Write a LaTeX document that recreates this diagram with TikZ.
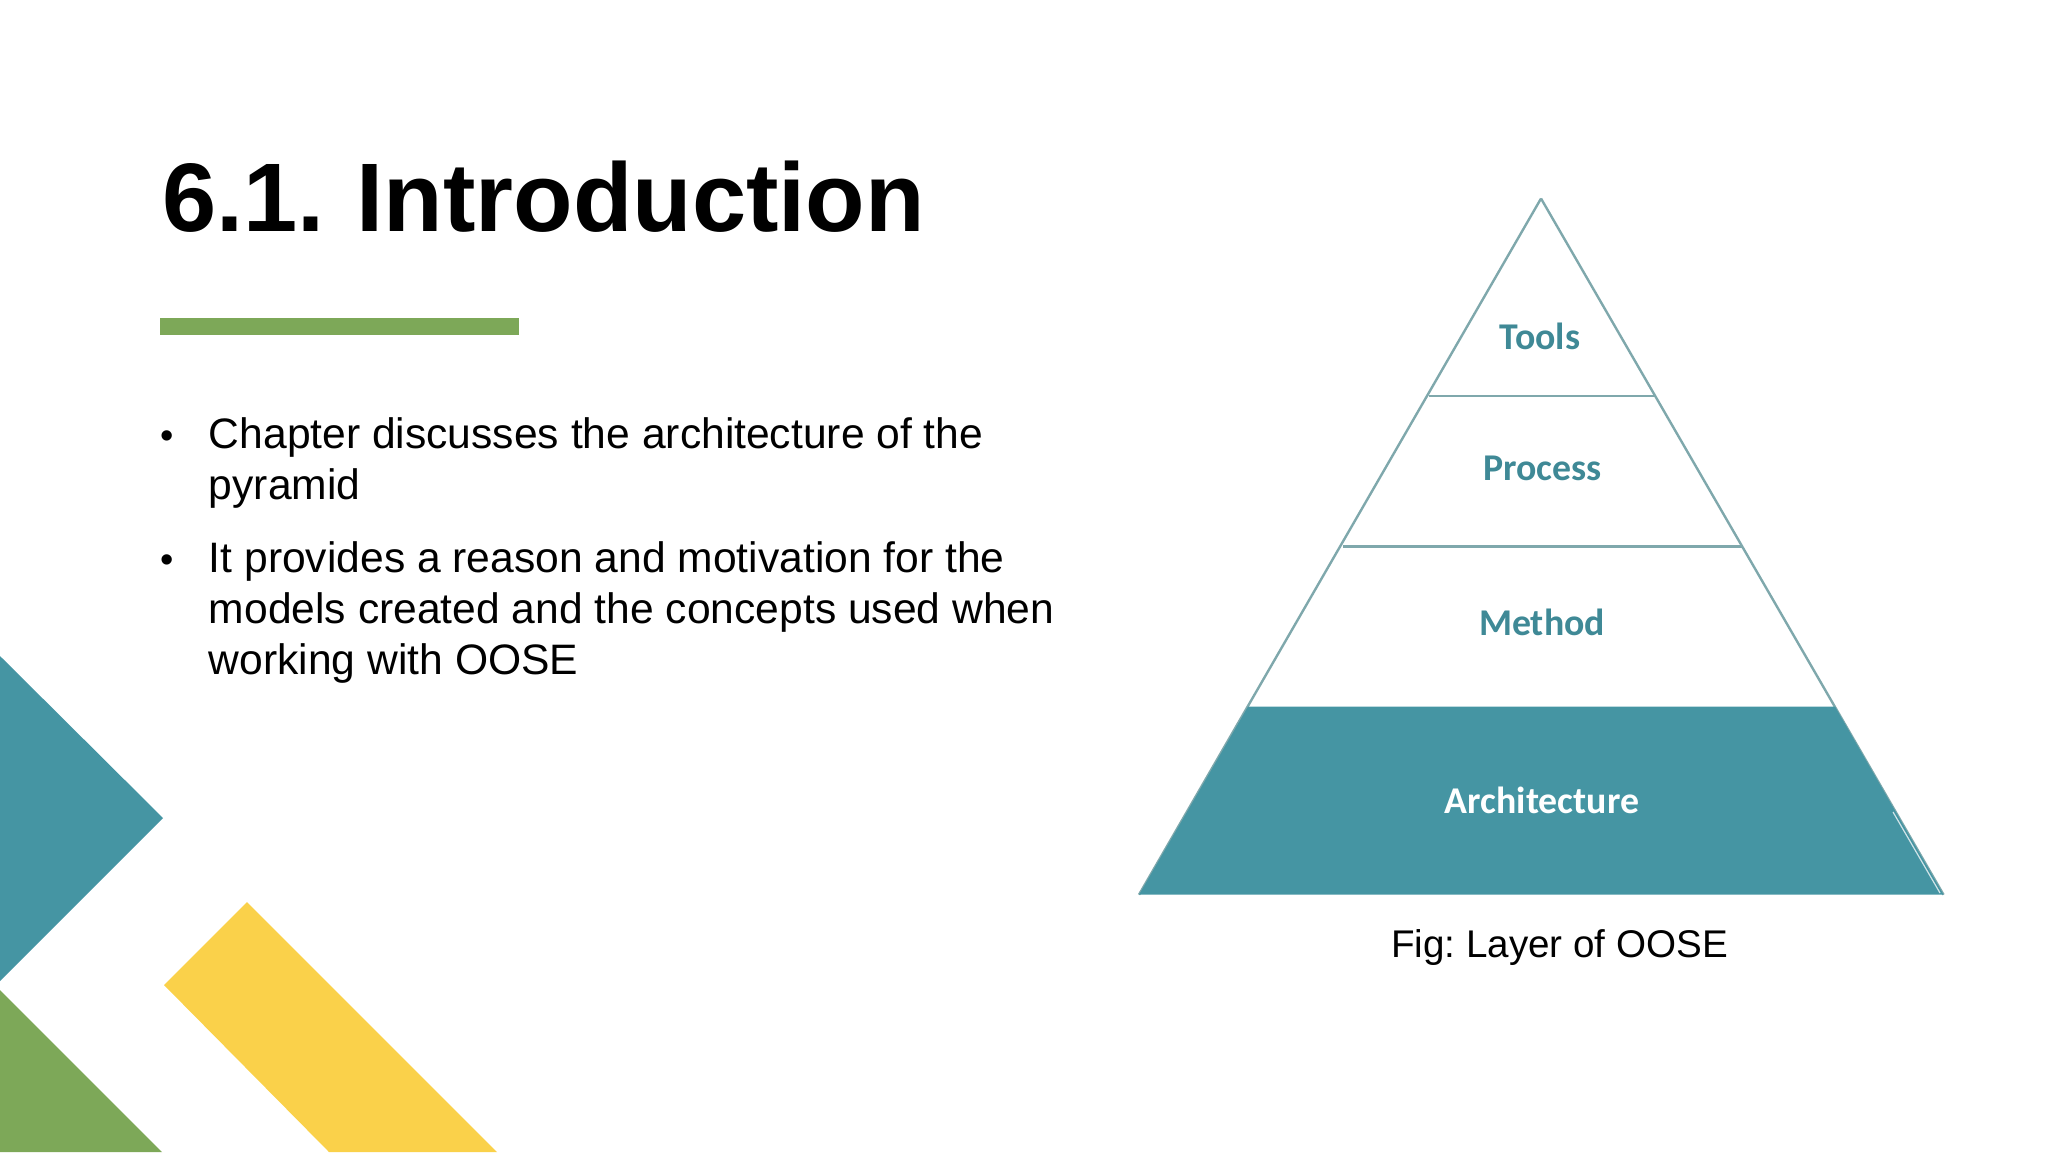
\documentclass[tikz,border=0pt]{standalone}
\usepackage{fontspec}
\setmainfont{Liberation Sans}
\newfontfamily\layerfont{Carlito}
\definecolor{tealc}{HTML}{4595A3}
\definecolor{edgec}{HTML}{7FA8AC}
\definecolor{greenc}{HTML}{7DA858}
\definecolor{yellowc}{HTML}{FAD14A}
\tikzset{%
    bodytxt/.style={inner sep=0pt,anchor=north west,align=left,font=\fontsize{21.3}{25.5}\selectfont},
    dot/.style={inner sep=0pt,anchor=base west,font=\fontsize{19}{25.5}\selectfont},
    layer/.style={inner sep=0pt,font=\layerfont\bfseries\fontsize{18.9}{22}\selectfont,text=tealc!92!black},
    rim/.style={draw=edgec,line width=1.2pt}
}

\begin{document}
\frenchspacing
\begin{tikzpicture}[x=0.5pt,y=-0.5pt]
        \useasboundingbox (0,0) rectangle (2048,1152);
        % corner shapes
        \fill[tealc] (0,656) -- (163,818) -- (0,981) -- cycle;
        \fill[greenc] (0,990) -- (162,1152) -- (0,1152) -- cycle;
        \fill[yellowc] (247,902) -- (497,1152) -- (329,1152) -- (164,985) -- cycle;
        \fill[greenc] (160,317.5) rectangle (518.5,335);
        % title and text
        \node[inner sep=0pt,anchor=base west,font=\fontsize{48.7}{54}\selectfont\bfseries] (title) at (162,231) {6.1.\kern2.4pt\ Introduction};
        \node[dot] (dota) at (160,448) {•};
        \node[bodytxt] (parta) at (208.5,417) {Chapter discusses the architecture of the\\pyramid};
        \node[dot] (dotb) at (160,572) {•};
        \node[bodytxt] (partb) at (208.5,541) {It provides a reason and motivation for the\\models created and the concepts used when\\working with OOSE};
        % pyramid
        \coordinate (a) at (1541,198.5);
        \coordinate (b) at (1139,894.7);
        \coordinate (c) at (1943.5,894.7);
        \coordinate (d) at (1429,395.7);
        \coordinate (e) at (1655,395.7);
        \coordinate (f) at (1343,546.6);
        \coordinate (g) at (1742,546.6);
        \coordinate (h) at (1248,706.6);
        \coordinate (i) at (1835,706.6);
        \coordinate (j) at (1893,812);
        \coordinate (k) at (1940,893);
        \path[rim]
            (a) edge (b)
            (a) edge (c)
            (d) edge (e)
            (f) edge (g);
        \fill[tealc] (h) -- (i) -- (c) -- (b) -- cycle;
        \draw[tealc!25!white,line width=0.6pt] (j) -- (k);
        \node[layer] (tools) at (1540,336) {Tools};
        \node[layer] (process) at (1542.5,468.5) {Process};
        \node[layer] (method) at (1542,622.5) {Method};
        \node[layer,text=white] (arch) at (1542,800) {Architecture};
        \node[inner sep=0pt,anchor=base,font=\fontsize{19.3}{25}\selectfont] (figcap) at (1559.5,957) {Fig: Layer of OOSE};
    \end{tikzpicture}
\end{document}
